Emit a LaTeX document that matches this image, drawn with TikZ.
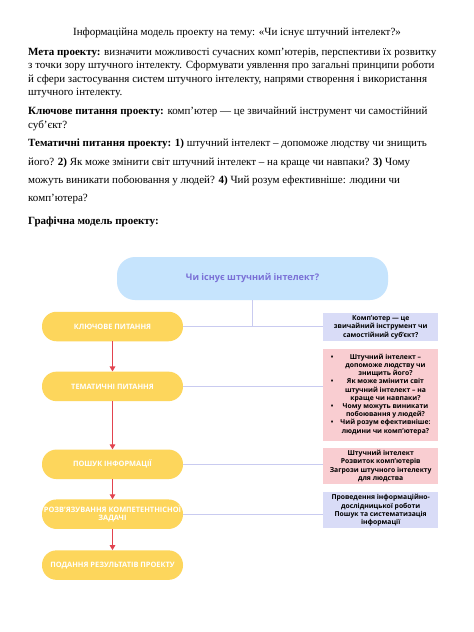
\documentclass[tikz,border=0pt]{standalone}
\usepackage{fontspec}
\setmainfont{Liberation Serif}
\newfontfamily\diagfont{Open Sans}
\usetikzlibrary{positioning, arrows.meta}

\definecolor{qblue}{HTML}{C6E4FD}
\definecolor{qpurple}{HTML}{7A70D6}
\definecolor{syellow}{HTML}{FDD65C}
\definecolor{nblue}{HTML}{D9DCF7}
\definecolor{npink}{HTML}{F9CDD1}
\definecolor{lline}{HTML}{C9CBF0}
\definecolor{ared}{HTML}{E2434F}

\begin{document}
\begin{tikzpicture}[
    x=1pt, y=-1pt,
    every node/.style={align=center},
    %% page text above the diagram
    bodytext/.style={anchor=north west, inner sep=0pt, align=left,
        font=\fontsize{11}{13.4}\selectfont},
    %% central question of the project
    question/.style={fill=qblue, rounded corners=18pt,
        minimum width=271pt, minimum height=43pt, inner sep=0pt,
        text=qpurple, font=\diagfont\bfseries\fontsize{9.1}{10}\selectfont},
    %% project stage (yellow pill)
    stage/.style={fill=syellow, rounded corners=14.5pt,
        minimum width=141pt, minimum height=29.5pt, inner sep=0pt,
        text=white, font=\diagfont\bfseries\fontsize{7.4}{8}\selectfont},
    %% side note boxes
    note/.style={minimum width=115pt, inner sep=1pt,
        font=\diagfont\bfseries\fontsize{6.8}{8.2}\selectfont},
    bluenote/.style={note, fill=nblue},
    pinknote/.style={note, fill=npink},
    %% connectors
    link/.style={draw=lline, line width=0.8pt},
    flowarrow/.style={-{Triangle[length=5pt, width=5.5pt]}, draw=ared, line width=1.3pt}
]
\useasboundingbox[fill=white] (0,0) rectangle (474,632);

%%-------------------------------------------------------------- page text
\node[inner sep=0pt, font=\fontsize{11}{13.4}\selectfont] (title) at (237,33)
    {Інформаційна модель проекту на тему: «Чи існує штучний інтелект?»};

\node[bodytext] (goal) at (28,48)
    {\textbf{Мета проекту:} визначити можливості сучасних комп’ютерів, перспективи їх розвитку\\
     з точки зору штучного інтелекту. Сформувати уявлення про загальні принципи роботи\\
     й сфери застосування систем штучного інтелекту, напрями створення і використання\\
     штучного інтелекту.};

\node[bodytext] (keyq) at (28,107)
    {\textbf{Ключове питання проекту:} комп’ютер — це звичайний інструмент чи самостійний\\
     суб’єкт?};

\node[bodytext, font=\fontsize{11}{18.2}\selectfont] (themq) at (28,139)
    {\textbf{Тематичні питання проекту: 1)} штучний інтелект – допоможе людству чи знищить\\
     його? \textbf{2)} Як може змінити світ штучний інтелект – на краще чи навпаки? \textbf{3)} Чому\\
     можуть виникати побоювання у людей? \textbf{4)} Чий розум ефективніше: людини чи\\
     комп’ютера?};

\node[bodytext] (graph) at (28,217) {\textbf{Графічна модель проекту:}};

%%-------------------------------------------------------------- diagram nodes
\node[question] (question) at (252.5,278.5) {Чи існує штучний інтелект?};

\node[stage] (key)    at (112.5,326.5)         {КЛЮЧОВЕ ПИТАННЯ};
\node[stage, below=30pt of key]    (themes)    {ТЕМАТИЧНІ ПИТАННЯ};
\node[stage, below=48pt of themes] (search)    {ПОШУК ІНФОРМАЦІЇ};
\node[stage, below=20pt of search] (solve)     {РОЗВ’ЯЗУВАННЯ КОМПЕТЕНТНІСНОЇ\\ЗАДАЧІ};
\node[stage, below=21pt of solve]  (present)   {ПОДАННЯ РЕЗУЛЬТАТІВ ПРОЕКТУ};

\node[bluenote, anchor=north west, minimum height=28pt] (keynote) at (323,313)
    {Комп’ютер — це\\звичайний інструмент чи\\самостійний суб’єкт?};

\node[pinknote, below=7pt of keynote, minimum height=92pt] (themenote)
    {\begin{tabular}{@{}l@{\hspace{7pt}}c@{}}
     • & Штучний інтелект –\\
       & допоможе людству чи\\
       & знищить його?\\
     • & Як може змінити світ\\
       & штучний інтелект – на\\
       & краще чи навпаки?\\
     • & Чому можуть виникати\\
       & побоювання у людей?\\
     • & Чий розум ефективніше:\\
       & людини чи комп’ютера?
     \end{tabular}};

\node[pinknote, below=7pt of themenote, minimum height=36pt] (searchnote)
    {Штучний інтелект\\Розвиток комп’ютерів\\Загрози штучного інтелекту\\для людства};

\node[bluenote, below=8pt of searchnote, minimum height=36pt] (solvenote)
    {Проведення інформаційно-\\дослідницької роботи\\Пошук та систематизація\\інформації};

%%-------------------------------------------------------------- connectors
\draw[link] (question.south) -- (question.south |- key.east);
\draw[link] (key.east)    -- (key.east -| keynote.west);
\draw[link] (themes.east) -- (themes.east -| themenote.west);
\draw[link] (search.east) -- (search.east -| searchnote.west);
\draw[link] (solve.east)  -- (solve.east -| solvenote.west);

\draw[flowarrow] (key)    -- (themes);
\draw[flowarrow] (themes) -- (search);
\draw[flowarrow] (search) -- (solve);
\draw[flowarrow] (solve)  -- (present);

\end{tikzpicture}
\end{document}
